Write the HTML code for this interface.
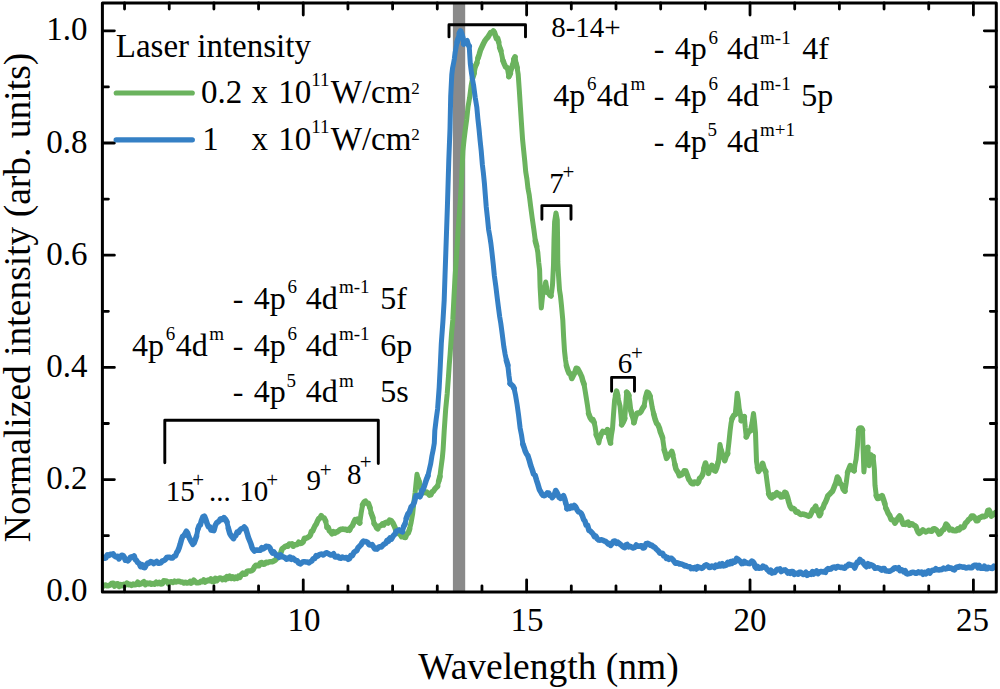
<!DOCTYPE html>
<html><head><meta charset="utf-8"><style>
html,body{margin:0;padding:0;background:#fff;}
svg{display:block;}
text{font-family:"Liberation Serif",serif;fill:#000;}
</style></head><body>
<svg width="1000" height="689" viewBox="0 0 1000 689">
<rect x="452.9" y="3.0" width="12.3" height="588.8" fill="#8a8a8a"/>
<defs><clipPath id="pc"><rect x="102.4" y="3.0" width="893.90" height="588.80"/></clipPath></defs>
<g clip-path="url(#pc)">
<polyline points="101.0,585.8 102.5,584.8 104.0,585.8 105.5,585.1 107.0,585.8 108.5,585.7 110.0,585.2 111.5,583.6 113.1,583.4 114.6,586.1 116.2,584.1 117.7,583.9 119.2,586.4 120.8,584.6 122.3,585.7 123.8,584.4 125.4,584.9 126.9,583.2 128.5,584.7 130.0,584.2 131.5,585.4 133.1,584.1 134.6,584.7 136.2,584.4 137.7,582.3 139.2,584.5 140.8,583.9 142.3,582.8 143.8,581.8 145.4,584.5 146.9,583.1 148.5,583.8 150.0,583.0 151.5,584.2 153.1,583.6 154.6,584.2 156.2,582.3 157.7,583.6 159.2,582.4 160.8,583.9 162.3,583.7 163.8,580.9 165.4,581.0 166.9,581.2 168.5,583.7 170.0,582.0 171.5,581.7 173.1,582.4 174.6,581.2 176.2,581.9 177.7,581.4 179.2,581.3 180.8,582.0 182.3,582.0 183.8,583.0 185.4,582.2 186.9,583.0 188.5,582.8 190.0,581.5 191.2,583.1 192.5,582.0 193.8,580.3 195.0,581.4 196.4,582.6 197.9,582.8 199.3,582.6 200.8,581.4 202.2,581.8 203.7,580.0 205.2,582.0 206.6,581.1 208.1,580.0 209.5,580.7 210.9,579.0 212.4,581.5 213.8,581.7 215.3,578.4 216.8,580.6 218.2,579.1 219.7,578.0 221.1,578.2 222.6,579.6 224.0,578.5 225.4,579.6 226.9,576.6 228.3,578.4 229.8,576.3 231.2,578.4 232.7,576.9 234.2,578.6 235.6,577.1 237.1,578.3 238.5,576.2 239.9,577.3 241.4,574.5 242.9,573.2 244.3,574.2 245.8,573.8 247.2,571.2 248.7,571.0 250.1,571.0 251.6,570.6 253.0,569.7 254.5,566.9 255.9,565.2 257.4,565.5 258.9,565.8 260.3,562.9 261.8,562.6 263.2,564.2 264.7,563.9 266.2,562.2 267.6,562.6 269.0,562.0 270.5,561.8 271.9,561.8 273.4,561.2 274.8,560.4 276.3,558.9 277.7,557.4 279.2,555.3 280.6,553.5 282.1,548.8 283.5,547.9 285.0,546.6 286.4,545.9 287.9,546.1 289.3,544.0 290.8,544.4 292.1,543.8 293.3,546.2 294.6,544.7 295.8,544.7 297.2,544.5 298.7,542.3 300.2,543.4 301.6,543.3 303.1,541.9 304.5,538.3 306.0,538.2 307.4,537.6 308.9,536.7 310.3,535.3 311.5,531.4 312.7,530.9 313.9,528.1 315.1,525.6 316.4,523.8 317.6,520.8 318.8,518.6 320.0,518.1 321.2,515.7 322.6,517.6 324.1,517.9 325.6,521.0" fill="none" stroke="#6bb35e" stroke-width="5.6" stroke-linejoin="round" stroke-linecap="round"/>
<polyline points="325.6,521.0 327.0,527.3" fill="none" stroke="#6bb35e" stroke-width="5.0" stroke-linejoin="round" stroke-linecap="round"/>
<polyline points="327.0,527.3 328.2,527.3 329.4,530.8 330.6,531.7 332.1,533.7 333.5,531.8 335.0,533.1 336.4,532.0 337.9,531.5 339.3,530.2 340.6,529.4 341.9,529.4 343.1,529.0 344.4,529.5 345.7,529.2 346.9,530.2 348.2,529.3 349.5,530.2 351.0,527.1 352.4,525.8 353.9,522.2 355.1,519.6 356.3,520.5 357.5,519.3 358.6,521.9 359.7,523.0" fill="none" stroke="#6bb35e" stroke-width="5.6" stroke-linejoin="round" stroke-linecap="round"/>
<polyline points="359.7,523.0 361.1,513.3 362.6,504.8" fill="none" stroke="#6bb35e" stroke-width="5.0" stroke-linejoin="round" stroke-linecap="round"/>
<polyline points="362.6,504.8 364.1,502.1 365.5,501.2 366.9,503.3 368.4,503.4 369.9,507.6" fill="none" stroke="#6bb35e" stroke-width="5.6" stroke-linejoin="round" stroke-linecap="round"/>
<polyline points="369.9,507.6 371.3,513.5" fill="none" stroke="#6bb35e" stroke-width="5.0" stroke-linejoin="round" stroke-linecap="round"/>
<polyline points="371.3,513.5 372.8,517.5" fill="none" stroke="#6bb35e" stroke-width="5.6" stroke-linejoin="round" stroke-linecap="round"/>
<polyline points="372.8,517.5 374.2,523.7" fill="none" stroke="#6bb35e" stroke-width="5.0" stroke-linejoin="round" stroke-linecap="round"/>
<polyline points="374.2,523.7 375.4,525.2 376.6,527.8 377.8,528.8 379.0,526.2 380.2,525.8 381.4,525.2 382.5,523.9 383.7,524.9 384.8,523.0 386.4,522.2 388.0,523.0 389.6,520.1 391.2,520.6 392.8,522.8 394.4,526.2 395.5,528.8 396.5,531.8 397.6,532.6 398.9,533.8 400.3,534.3 401.6,536.6 402.9,535.6 404.2,537.2 405.5,537.4 406.8,533.7 408.2,533.1 409.5,529.4" fill="none" stroke="#6bb35e" stroke-width="5.6" stroke-linejoin="round" stroke-linecap="round"/>
<polyline points="409.5,529.4 411.1,522.6 412.7,513.5 413.9,502.0 415.1,492.7 416.1,482.7 417.0,474.3 418.1,478.9" fill="none" stroke="#6bb35e" stroke-width="5.0" stroke-linejoin="round" stroke-linecap="round"/>
<polyline points="418.1,478.9 419.1,481.5" fill="none" stroke="#6bb35e" stroke-width="5.6" stroke-linejoin="round" stroke-linecap="round"/>
<polyline points="419.1,481.5 420.3,486.8" fill="none" stroke="#6bb35e" stroke-width="5.0" stroke-linejoin="round" stroke-linecap="round"/>
<polyline points="420.3,486.8 421.5,491.1 422.8,492.7 424.2,491.6 425.5,492.7 426.8,492.2 428.2,493.6 429.5,495.1 430.8,494.8 432.2,491.7 433.5,491.1 434.8,489.0 436.2,487.6 437.5,486.3" fill="none" stroke="#6bb35e" stroke-width="5.6" stroke-linejoin="round" stroke-linecap="round"/>
<polyline points="437.5,486.3 438.7,481.2" fill="none" stroke="#6bb35e" stroke-width="5.0" stroke-linejoin="round" stroke-linecap="round"/>
<polyline points="438.7,481.2 439.9,476.7" fill="none" stroke="#6bb35e" stroke-width="5.6" stroke-linejoin="round" stroke-linecap="round"/>
<polyline points="439.9,476.7 440.7,470.0 441.5,464.0 442.3,458.2 443.1,449.6 444.2,430.8 445.7,409.0 447.2,393.7 448.5,376.3 449.3,364.2 450.1,354.5 451.6,332.7 452.8,320.0 454.0,296.5 455.1,276.3 456.6,254.6 458.1,229.8 459.2,215.6 460.3,200.5 461.4,183.3 462.9,150.7 464.1,139.6 465.4,128.9 466.7,119.5 468.0,107.1 469.6,97.7 471.2,85.4 472.6,78.0" fill="none" stroke="#6bb35e" stroke-width="5.0" stroke-linejoin="round" stroke-linecap="round"/>
<polyline points="472.6,78.0 474.1,73.3" fill="none" stroke="#6bb35e" stroke-width="5.6" stroke-linejoin="round" stroke-linecap="round"/>
<polyline points="474.1,73.3 475.5,66.0" fill="none" stroke="#6bb35e" stroke-width="5.0" stroke-linejoin="round" stroke-linecap="round"/>
<polyline points="475.5,66.0 476.8,63.1" fill="none" stroke="#6bb35e" stroke-width="5.6" stroke-linejoin="round" stroke-linecap="round"/>
<polyline points="476.8,63.1 478.0,58.0" fill="none" stroke="#6bb35e" stroke-width="5.0" stroke-linejoin="round" stroke-linecap="round"/>
<polyline points="478.0,58.0 479.2,54.6 480.5,50.0 482.0,46.8 483.5,43.5 485.0,40.6 486.5,38.6 488.0,37.0 489.4,34.6 490.7,32.5 492.0,32.8 493.4,31.0 494.4,32.4 495.4,35.3 496.5,38.5 497.5,38.1 498.6,41.8" fill="none" stroke="#6bb35e" stroke-width="5.6" stroke-linejoin="round" stroke-linecap="round"/>
<polyline points="498.6,41.8 499.7,47.5" fill="none" stroke="#6bb35e" stroke-width="5.0" stroke-linejoin="round" stroke-linecap="round"/>
<polyline points="499.7,47.5 500.8,50.5" fill="none" stroke="#6bb35e" stroke-width="5.6" stroke-linejoin="round" stroke-linecap="round"/>
<polyline points="500.8,50.5 501.9,55.5 503.0,60.7" fill="none" stroke="#6bb35e" stroke-width="5.0" stroke-linejoin="round" stroke-linecap="round"/>
<polyline points="503.0,60.7 504.1,63.6 505.7,67.1 507.3,67.9" fill="none" stroke="#6bb35e" stroke-width="5.6" stroke-linejoin="round" stroke-linecap="round"/>
<polyline points="507.3,67.9 508.9,76.6" fill="none" stroke="#6bb35e" stroke-width="5.0" stroke-linejoin="round" stroke-linecap="round"/>
<polyline points="508.9,76.6 510.3,73.6" fill="none" stroke="#6bb35e" stroke-width="5.6" stroke-linejoin="round" stroke-linecap="round"/>
<polyline points="510.3,73.6 511.7,67.9" fill="none" stroke="#6bb35e" stroke-width="5.0" stroke-linejoin="round" stroke-linecap="round"/>
<polyline points="511.7,67.9 512.8,64.5" fill="none" stroke="#6bb35e" stroke-width="5.6" stroke-linejoin="round" stroke-linecap="round"/>
<polyline points="512.8,64.5 513.9,59.0" fill="none" stroke="#6bb35e" stroke-width="5.0" stroke-linejoin="round" stroke-linecap="round"/>
<polyline points="513.9,59.0 515.0,57.0" fill="none" stroke="#6bb35e" stroke-width="5.6" stroke-linejoin="round" stroke-linecap="round"/>
<polyline points="515.0,57.0 516.1,63.7" fill="none" stroke="#6bb35e" stroke-width="5.0" stroke-linejoin="round" stroke-linecap="round"/>
<polyline points="516.1,63.7 517.1,67.6" fill="none" stroke="#6bb35e" stroke-width="5.6" stroke-linejoin="round" stroke-linecap="round"/>
<polyline points="517.1,67.6 518.2,74.5 519.3,90.1 520.4,107.1 521.5,124.0 522.6,139.8 523.7,150.8 524.8,161.6 525.7,171.6 526.9,179.0 528.0,188.6 529.2,194.8 530.7,206.8 532.2,218.0 533.8,229.1 535.4,241.2" fill="none" stroke="#6bb35e" stroke-width="5.0" stroke-linejoin="round" stroke-linecap="round"/>
<polyline points="535.4,241.2 536.6,245.9" fill="none" stroke="#6bb35e" stroke-width="5.6" stroke-linejoin="round" stroke-linecap="round"/>
<polyline points="536.6,245.9 537.8,252.3 538.7,262.3 539.6,269.8 540.1,287.2 541.3,308.1 542.2,299.3 543.1,290.7" fill="none" stroke="#6bb35e" stroke-width="5.0" stroke-linejoin="round" stroke-linecap="round"/>
<polyline points="543.1,290.7 544.4,287.3" fill="none" stroke="#6bb35e" stroke-width="5.6" stroke-linejoin="round" stroke-linecap="round"/>
<polyline points="544.4,287.3 545.7,282.0 546.5,286.7 547.4,292.4" fill="none" stroke="#6bb35e" stroke-width="5.0" stroke-linejoin="round" stroke-linecap="round"/>
<polyline points="547.4,292.4 548.6,292.5 549.7,294.9 550.9,295.9" fill="none" stroke="#6bb35e" stroke-width="5.6" stroke-linejoin="round" stroke-linecap="round"/>
<polyline points="550.9,295.9 551.7,291.5 552.5,285.0 553.5,265.0 554.0,240.0 554.6,222.0 556.0,213.0 557.3,220.0 557.6,240.0 557.8,262.0 558.5,275.0 559.5,290.0 560.5,296.2 561.4,304.7 562.8,320.2 563.6,336.5 564.5,350.9 565.5,359.9 566.5,366.0" fill="none" stroke="#6bb35e" stroke-width="5.0" stroke-linejoin="round" stroke-linecap="round"/>
<polyline points="566.5,366.0 567.8,370.2 569.1,373.3 570.5,373.7 571.8,378.5 573.3,375.5 574.7,372.9 576.2,368.3 577.6,368.7 579.1,371.4 580.5,374.1 581.7,376.6 582.8,380.8 584.0,384.0" fill="none" stroke="#6bb35e" stroke-width="5.6" stroke-linejoin="round" stroke-linecap="round"/>
<polyline points="584.0,384.0 585.1,390.7 586.3,398.0 587.5,405.7 588.6,413.5" fill="none" stroke="#6bb35e" stroke-width="5.0" stroke-linejoin="round" stroke-linecap="round"/>
<polyline points="588.6,413.5 590.2,417.7 591.7,420.1 593.0,419.7 594.2,422.7" fill="none" stroke="#6bb35e" stroke-width="5.6" stroke-linejoin="round" stroke-linecap="round"/>
<polyline points="594.2,422.7 595.2,427.3 596.3,434.9" fill="none" stroke="#6bb35e" stroke-width="5.0" stroke-linejoin="round" stroke-linecap="round"/>
<polyline points="596.3,434.9 597.5,437.7" fill="none" stroke="#6bb35e" stroke-width="5.6" stroke-linejoin="round" stroke-linecap="round"/>
<polyline points="597.5,437.7 598.8,443.0 600.0,437.2" fill="none" stroke="#6bb35e" stroke-width="5.0" stroke-linejoin="round" stroke-linecap="round"/>
<polyline points="600.0,437.2 601.3,433.9 602.8,431.4 604.4,431.8 605.9,432.4 607.4,429.8" fill="none" stroke="#6bb35e" stroke-width="5.6" stroke-linejoin="round" stroke-linecap="round"/>
<polyline points="607.4,429.8 609.0,437.6" fill="none" stroke="#6bb35e" stroke-width="5.0" stroke-linejoin="round" stroke-linecap="round"/>
<polyline points="609.0,437.6 610.5,443.0" fill="none" stroke="#6bb35e" stroke-width="5.6" stroke-linejoin="round" stroke-linecap="round"/>
<polyline points="610.5,443.0 611.5,434.5 612.5,428.8 613.5,414.6 614.6,400.3 615.6,395.1" fill="none" stroke="#6bb35e" stroke-width="5.0" stroke-linejoin="round" stroke-linecap="round"/>
<polyline points="615.6,395.1 616.6,391.2 617.6,395.1" fill="none" stroke="#6bb35e" stroke-width="5.6" stroke-linejoin="round" stroke-linecap="round"/>
<polyline points="617.6,395.1 618.6,400.3 620.1,406.4 620.9,415.0 621.7,424.7" fill="none" stroke="#6bb35e" stroke-width="5.0" stroke-linejoin="round" stroke-linecap="round"/>
<polyline points="621.7,424.7 623.2,422.1 624.7,418.6" fill="none" stroke="#6bb35e" stroke-width="5.6" stroke-linejoin="round" stroke-linecap="round"/>
<polyline points="624.7,418.6 625.7,405.7 626.7,392.2" fill="none" stroke="#6bb35e" stroke-width="5.0" stroke-linejoin="round" stroke-linecap="round"/>
<polyline points="626.7,392.2 627.8,393.2 628.8,395.2" fill="none" stroke="#6bb35e" stroke-width="5.6" stroke-linejoin="round" stroke-linecap="round"/>
<polyline points="628.8,395.2 629.8,401.8 630.8,410.5" fill="none" stroke="#6bb35e" stroke-width="5.0" stroke-linejoin="round" stroke-linecap="round"/>
<polyline points="630.8,410.5 632.3,416.0" fill="none" stroke="#6bb35e" stroke-width="5.6" stroke-linejoin="round" stroke-linecap="round"/>
<polyline points="632.3,416.0 633.9,422.7" fill="none" stroke="#6bb35e" stroke-width="5.0" stroke-linejoin="round" stroke-linecap="round"/>
<polyline points="633.9,422.7 635.4,416.8 636.9,413.5 638.3,413.0 639.6,412.9 641.0,411.5 642.5,408.5 644.0,406.4" fill="none" stroke="#6bb35e" stroke-width="5.6" stroke-linejoin="round" stroke-linecap="round"/>
<polyline points="644.0,406.4 645.5,397.9" fill="none" stroke="#6bb35e" stroke-width="5.0" stroke-linejoin="round" stroke-linecap="round"/>
<polyline points="645.5,397.9 647.1,392.2 648.6,393.2 650.1,396.3" fill="none" stroke="#6bb35e" stroke-width="5.6" stroke-linejoin="round" stroke-linecap="round"/>
<polyline points="650.1,396.3 651.2,401.4 652.2,407.4 653.7,413.9" fill="none" stroke="#6bb35e" stroke-width="5.0" stroke-linejoin="round" stroke-linecap="round"/>
<polyline points="653.7,413.9 655.2,419.6 656.6,423.3 657.9,424.7 659.3,427.8 660.4,432.0 661.4,434.6 662.5,437.4" fill="none" stroke="#6bb35e" stroke-width="5.6" stroke-linejoin="round" stroke-linecap="round"/>
<polyline points="662.5,437.4 663.4,443.6 664.3,450.2" fill="none" stroke="#6bb35e" stroke-width="5.0" stroke-linejoin="round" stroke-linecap="round"/>
<polyline points="664.3,450.2 665.5,453.8 666.6,458.3 667.8,456.5 668.9,454.8 670.3,453.8 671.8,451.4 672.7,454.6" fill="none" stroke="#6bb35e" stroke-width="5.6" stroke-linejoin="round" stroke-linecap="round"/>
<polyline points="672.7,454.6 673.6,458.3 674.8,464.2" fill="none" stroke="#6bb35e" stroke-width="5.0" stroke-linejoin="round" stroke-linecap="round"/>
<polyline points="674.8,464.2 675.9,468.8 677.1,471.0 678.2,472.5 679.4,475.7 680.6,475.1 681.7,474.8 682.9,473.4 684.3,470.8 685.8,471.1 687.2,474.9 688.7,479.2 689.9,480.7 691.0,482.7 692.2,483.8 693.3,483.8 694.5,482.1 696.0,482.3 697.4,483.3 698.5,482.1 699.7,478.1 701.2,477.3 702.6,474.6" fill="none" stroke="#6bb35e" stroke-width="5.6" stroke-linejoin="round" stroke-linecap="round"/>
<polyline points="702.6,474.6 704.0,468.0" fill="none" stroke="#6bb35e" stroke-width="5.0" stroke-linejoin="round" stroke-linecap="round"/>
<polyline points="704.0,468.0 705.5,463.0 707.0,468.1 708.4,473.4 709.6,469.4 710.7,469.1 711.9,465.3 713.1,467.8 714.2,470.5 715.4,471.1 716.8,467.4 718.3,461.8" fill="none" stroke="#6bb35e" stroke-width="5.6" stroke-linejoin="round" stroke-linecap="round"/>
<polyline points="718.3,461.8 719.1,453.7 720.0,444.4 721.2,450.4" fill="none" stroke="#6bb35e" stroke-width="5.0" stroke-linejoin="round" stroke-linecap="round"/>
<polyline points="721.2,450.4 722.4,454.8 723.5,458.0 724.7,460.7 726.2,455.9 727.6,453.7" fill="none" stroke="#6bb35e" stroke-width="5.6" stroke-linejoin="round" stroke-linecap="round"/>
<polyline points="727.6,453.7 728.9,442.5 730.1,430.8 731.1,423.0 732.1,418.6" fill="none" stroke="#6bb35e" stroke-width="5.0" stroke-linejoin="round" stroke-linecap="round"/>
<polyline points="732.1,418.6 733.7,415.4 735.2,414.6" fill="none" stroke="#6bb35e" stroke-width="5.6" stroke-linejoin="round" stroke-linecap="round"/>
<polyline points="735.2,414.6 736.2,404.8 737.2,393.2 738.2,399.3 739.2,408.5 740.2,413.2 741.3,420.7" fill="none" stroke="#6bb35e" stroke-width="5.0" stroke-linejoin="round" stroke-linecap="round"/>
<polyline points="741.3,420.7 742.8,417.3 744.3,416.6" fill="none" stroke="#6bb35e" stroke-width="5.6" stroke-linejoin="round" stroke-linecap="round"/>
<polyline points="744.3,416.6 745.3,428.0 746.3,436.9" fill="none" stroke="#6bb35e" stroke-width="5.0" stroke-linejoin="round" stroke-linecap="round"/>
<polyline points="746.3,436.9 747.7,433.8 749.0,431.2 750.4,430.8" fill="none" stroke="#6bb35e" stroke-width="5.6" stroke-linejoin="round" stroke-linecap="round"/>
<polyline points="750.4,430.8 752.0,423.3 753.5,413.5 754.5,421.9 755.5,432.8 756.5,461.3 757.5,467.6" fill="none" stroke="#6bb35e" stroke-width="5.0" stroke-linejoin="round" stroke-linecap="round"/>
<polyline points="757.5,467.6 758.5,471.5 759.9,469.4 761.2,467.2 762.6,463.3 764.2,468.9 765.7,471.5" fill="none" stroke="#6bb35e" stroke-width="5.6" stroke-linejoin="round" stroke-linecap="round"/>
<polyline points="765.7,471.5 767.2,482.9 768.7,493.8" fill="none" stroke="#6bb35e" stroke-width="5.0" stroke-linejoin="round" stroke-linecap="round"/>
<polyline points="768.7,493.8 770.2,496.9 771.7,497.9 773.0,495.0 774.2,496.3 775.5,494.1 776.8,492.8 778.2,494.9 779.5,494.2 780.9,496.9 782.2,496.7 783.5,496.3 784.7,492.3 786.0,492.8 787.3,496.6 788.7,501.8 790.0,506.0 791.5,508.6 793.0,508.2 794.6,509.5 796.1,512.1 797.6,511.7 799.2,513.5 800.7,514.5 802.2,514.1 803.7,514.3 805.2,514.7 806.8,515.3 808.3,516.2 809.1,515.4 810.0,515.7 811.4,513.0 812.9,509.5 814.3,508.6 815.7,506.2 816.9,511.0 818.2,512.2 819.4,515.7 820.6,513.7" fill="none" stroke="#6bb35e" stroke-width="5.6" stroke-linejoin="round" stroke-linecap="round"/>
<polyline points="820.6,513.7 821.8,508.8" fill="none" stroke="#6bb35e" stroke-width="5.0" stroke-linejoin="round" stroke-linecap="round"/>
<polyline points="821.8,508.8 823.0,507.8 824.2,504.3 825.4,502.3 826.7,499.2 827.9,495.8 829.5,494.3 831.0,492.6 832.6,491.1 834.2,486.9 835.8,483.1 837.4,477.0 838.8,479.1 840.2,483.6 841.8,484.7 843.3,489.4 844.9,491.1" fill="none" stroke="#6bb35e" stroke-width="5.6" stroke-linejoin="round" stroke-linecap="round"/>
<polyline points="844.9,491.1 846.2,483.1 847.6,472.2" fill="none" stroke="#6bb35e" stroke-width="5.0" stroke-linejoin="round" stroke-linecap="round"/>
<polyline points="847.6,472.2 848.9,469.0 850.2,465.7 851.5,467.2 852.8,469.9 854.1,470.9" fill="none" stroke="#6bb35e" stroke-width="5.6" stroke-linejoin="round" stroke-linecap="round"/>
<polyline points="854.1,470.9 855.1,464.0 856.1,459.2 857.4,446.1 858.6,430.0" fill="none" stroke="#6bb35e" stroke-width="5.0" stroke-linejoin="round" stroke-linecap="round"/>
<polyline points="858.6,430.0 859.5,428.2 860.5,428.0 861.5,428.0 862.5,430.0" fill="none" stroke="#6bb35e" stroke-width="5.6" stroke-linejoin="round" stroke-linecap="round"/>
<polyline points="862.5,430.0 863.0,446.0 863.9,472.0 864.9,461.3 865.9,450.0" fill="none" stroke="#6bb35e" stroke-width="5.0" stroke-linejoin="round" stroke-linecap="round"/>
<polyline points="865.9,450.0 866.8,448.1 867.8,447.4" fill="none" stroke="#6bb35e" stroke-width="5.6" stroke-linejoin="round" stroke-linecap="round"/>
<polyline points="867.8,447.4 869.2,465.7 870.2,459.5 871.1,455.2" fill="none" stroke="#6bb35e" stroke-width="5.0" stroke-linejoin="round" stroke-linecap="round"/>
<polyline points="871.1,455.2 872.1,456.5 873.1,456.6" fill="none" stroke="#6bb35e" stroke-width="5.6" stroke-linejoin="round" stroke-linecap="round"/>
<polyline points="873.1,456.6 874.4,469.6 875.0,485.3 876.3,495.7" fill="none" stroke="#6bb35e" stroke-width="5.0" stroke-linejoin="round" stroke-linecap="round"/>
<polyline points="876.3,495.7 877.6,498.5 878.9,498.3 880.0,496.7 881.1,497.3 882.2,495.7 883.5,499.4 884.8,503.6" fill="none" stroke="#6bb35e" stroke-width="5.6" stroke-linejoin="round" stroke-linecap="round"/>
<polyline points="884.8,503.6 885.8,508.0" fill="none" stroke="#6bb35e" stroke-width="5.0" stroke-linejoin="round" stroke-linecap="round"/>
<polyline points="885.8,508.0 886.8,510.0 888.2,513.4 889.7,515.5 891.1,519.4 892.4,519.7 893.6,520.3 894.9,523.2 896.5,520.7 898.0,518.0 899.6,516.0 900.8,517.6 901.9,520.9 903.1,524.1 904.3,523.1 905.4,524.3 906.6,523.0 908.0,522.1 909.5,525.2 911.0,523.8 912.4,524.1 913.6,525.2 914.7,525.6 915.9,526.5 917.1,529.9 918.2,532.2 919.4,533.4 920.6,532.4 921.7,531.0 922.9,529.9 924.4,531.1 926.0,531.9 927.5,531.1 928.9,530.3 930.3,531.0 931.7,531.3 933.1,529.1 934.5,528.8 936.0,529.6 937.6,531.4 939.1,534.0 940.3,533.4 941.4,531.9 942.6,529.9 943.8,529.5 944.9,527.2 946.1,524.1 947.3,525.2 948.4,526.9 949.6,529.9 950.8,529.3 951.9,529.2 953.1,530.5 954.6,530.6 956.2,530.6 957.7,528.8 959.3,529.8 960.8,527.2 962.4,527.6 963.9,526.9 965.5,523.1 967.0,521.8 968.6,519.6 970.1,518.7 971.7,516.0 973.2,516.1 974.8,517.7 976.3,520.6 977.8,520.6 979.4,517.6 980.9,517.2 982.5,516.3 984.0,516.7 985.6,516.0 986.8,514.7 987.9,510.5 989.1,510.2 990.2,512.5 991.4,516.0 992.7,515.0 994.0,514.4 995.4,512.6 996.7,513.1 998.0,512.0" fill="none" stroke="#6bb35e" stroke-width="5.6" stroke-linejoin="round" stroke-linecap="round"/>
<polyline points="101.0,559.0 102.1,558.2 103.3,557.3 104.4,558.3 105.9,557.8 107.3,554.9 108.8,555.5 110.2,554.4 111.6,554.4 113.1,553.9 114.5,555.9 116.0,556.9 117.4,556.3 118.9,558.8 120.3,556.8 121.8,555.2 123.0,555.4 124.2,557.1 125.4,560.2 126.6,559.7 127.8,560.8 129.0,559.5 130.3,557.3 131.6,556.8 132.8,557.2 134.1,555.9 135.3,559.6 136.5,560.5 137.7,562.4 139.1,563.3 140.6,566.6 142.1,564.7 143.5,567.5 144.9,567.6 146.4,564.6 147.9,563.0 149.3,563.1 150.8,561.6 152.2,562.1 153.7,563.6 155.2,562.4 156.6,561.5 158.1,563.1 159.5,563.1 160.9,562.7 162.4,560.9 163.9,560.6 165.3,559.5 166.8,557.6 168.2,557.3 169.7,557.4 171.1,558.0 172.6,557.9 174.0,556.4 175.5,555.9 176.7,552.6 177.9,550.9 179.1,547.9 180.3,543.9 181.5,539.5 182.7,536.3 183.9,535.6 185.2,533.6 186.4,531.2 187.6,533.0 188.8,536.8 190.0,539.2 191.4,541.8 192.9,544.3 194.1,542.9 195.3,539.7 196.5,536.3" fill="none" stroke="#3580c5" stroke-width="5.6" stroke-linejoin="round" stroke-linecap="round"/>
<polyline points="196.5,536.3 197.9,529.2" fill="none" stroke="#3580c5" stroke-width="5.0" stroke-linejoin="round" stroke-linecap="round"/>
<polyline points="197.9,529.2 199.1,525.6 200.3,525.0 201.5,520.5 202.9,517.0 204.4,516.1 205.9,519.8 207.3,524.1 208.5,526.9 209.8,526.8 211.0,529.9 212.4,530.2 213.9,530.6 215.4,525.1 216.8,522.7 218.0,522.0 219.2,521.1 220.4,519.0 221.6,518.8 222.8,519.3 224.0,517.6 225.4,519.1 226.9,521.9" fill="none" stroke="#3580c5" stroke-width="5.6" stroke-linejoin="round" stroke-linecap="round"/>
<polyline points="226.9,521.9 228.4,528.4" fill="none" stroke="#3580c5" stroke-width="5.0" stroke-linejoin="round" stroke-linecap="round"/>
<polyline points="228.4,528.4 229.8,533.5 231.0,535.5 232.3,537.2 233.5,538.6 234.7,536.3 235.9,535.4 237.1,532.1 238.6,532.5 240.0,529.9 241.4,528.8 242.9,528.5 244.3,527.0 245.8,528.8 247.2,533.5 248.4,537.6 249.7,540.8 250.9,543.7 252.1,547.8 253.3,549.7 254.5,551.0 256.0,550.0 257.4,550.1 258.9,550.2 260.3,550.3 261.8,547.6 263.2,548.8 264.7,547.9 266.1,546.2 267.6,546.6 268.8,546.8 270.0,548.0 271.2,551.0 272.5,553.0 273.8,551.9 275.0,553.4 276.3,555.3 277.8,555.3 279.2,557.3 280.7,555.0 282.1,556.8 283.6,557.0 285.0,557.7 286.4,559.2 287.9,558.2 288.9,558.7 290.0,557.1 291.4,559.2 292.9,558.1 294.4,559.5 295.8,560.7 297.2,560.8 298.7,563.1 300.2,563.9 301.6,562.9 303.1,561.7 304.5,561.8 306.0,562.0 307.4,562.0 308.9,562.9 310.3,561.7 311.8,561.0 313.2,558.8 314.7,558.5 316.1,555.7 317.6,556.1 319.1,554.8 320.5,554.2 321.9,554.1 323.4,555.0 324.9,553.7 326.3,552.7 327.8,553.3 329.2,554.2 330.7,554.9 332.1,554.9 333.6,553.8 335.0,557.0 336.4,557.0 337.9,556.4 339.3,558.0 340.8,558.1 342.2,557.1 343.7,557.8 345.2,558.0 346.6,557.5 348.1,559.3 349.5,558.5 351.0,555.3 352.4,555.6 353.9,552.5 355.3,551.3 356.8,550.6 358.2,547.5 359.7,546.1 361.1,544.7 362.3,542.2 363.5,541.1 364.7,541.8 366.2,541.6 367.6,542.4 369.1,544.7 370.6,545.0 372.0,544.6 373.5,546.9 374.7,548.9 375.9,548.8 377.1,549.1 378.5,547.2 380.0,546.8 381.4,546.9 382.9,545.2 384.3,544.0 385.8,543.3 387.2,540.3 388.6,541.0 390.0,538.0 391.4,539.0 392.8,536.6 394.0,535.1 395.2,533.7 396.4,531.0 397.6,531.0 399.2,529.9 400.8,531.0 402.4,531.8" fill="none" stroke="#3580c5" stroke-width="5.6" stroke-linejoin="round" stroke-linecap="round"/>
<polyline points="402.4,531.8 403.7,526.5" fill="none" stroke="#3580c5" stroke-width="5.0" stroke-linejoin="round" stroke-linecap="round"/>
<polyline points="403.7,526.5 405.0,523.9" fill="none" stroke="#3580c5" stroke-width="5.6" stroke-linejoin="round" stroke-linecap="round"/>
<polyline points="405.0,523.9 406.3,518.2" fill="none" stroke="#3580c5" stroke-width="5.0" stroke-linejoin="round" stroke-linecap="round"/>
<polyline points="406.3,518.2 407.9,513.9 409.5,511.9 411.1,507.1 412.7,505.5 414.3,502.2 415.9,495.9 417.2,496.3 418.6,495.2 419.9,496.7 421.0,494.4 422.0,490.3 423.1,489.5 424.7,484.8 426.3,479.9 427.9,475.9" fill="none" stroke="#3580c5" stroke-width="5.6" stroke-linejoin="round" stroke-linecap="round"/>
<polyline points="427.9,475.9 429.5,468.7 430.7,463.6 431.9,456.0 433.1,450.3 434.3,443.2 434.8,430.8 436.2,419.1 437.6,409.0 439.2,387.2 440.3,365.4 441.3,343.6 442.9,321.8 444.2,300.0 445.0,276.0 445.8,253.0 447.4,206.5 448.8,160.0 450.0,128.9 450.7,96.3 451.8,74.5 452.6,67.9 453.5,63.6 454.3,59.1 455.1,52.7 456.1,47.4 457.2,41.8" fill="none" stroke="#3580c5" stroke-width="5.0" stroke-linejoin="round" stroke-linecap="round"/>
<polyline points="457.2,41.8 458.3,38.4" fill="none" stroke="#3580c5" stroke-width="5.6" stroke-linejoin="round" stroke-linecap="round"/>
<polyline points="458.3,38.4 459.4,33.1" fill="none" stroke="#3580c5" stroke-width="5.0" stroke-linejoin="round" stroke-linecap="round"/>
<polyline points="459.4,33.1 460.5,30.9 461.6,33.6 462.7,37.4" fill="none" stroke="#3580c5" stroke-width="5.6" stroke-linejoin="round" stroke-linecap="round"/>
<polyline points="462.7,37.4 463.8,44.0" fill="none" stroke="#3580c5" stroke-width="5.0" stroke-linejoin="round" stroke-linecap="round"/>
<polyline points="463.8,44.0 465.4,41.4 467.0,40.7 468.1,44.5 469.2,46.1" fill="none" stroke="#3580c5" stroke-width="5.6" stroke-linejoin="round" stroke-linecap="round"/>
<polyline points="469.2,46.1 470.3,63.6 471.4,72.5 472.5,79.3 473.6,85.4 475.2,97.3 476.8,107.1 477.9,119.1 479.0,128.9 480.1,140.6 481.2,150.7 482.4,165.0 483.4,173.2 484.4,183.2 485.3,194.9 486.2,206.4 487.4,217.5 488.6,229.6 489.7,235.7 490.9,243.5 492.0,252.8 493.2,263.7 494.4,276.0 495.9,286.8 497.4,299.2 498.5,307.9 499.7,316.8 500.8,323.3 502.3,334.7 503.8,346.5 505.1,354.2 506.5,360.6" fill="none" stroke="#3580c5" stroke-width="5.0" stroke-linejoin="round" stroke-linecap="round"/>
<polyline points="506.5,360.6 507.8,365.1" fill="none" stroke="#3580c5" stroke-width="5.6" stroke-linejoin="round" stroke-linecap="round"/>
<polyline points="507.8,365.1 509.0,375.9 510.1,383.7" fill="none" stroke="#3580c5" stroke-width="5.0" stroke-linejoin="round" stroke-linecap="round"/>
<polyline points="510.1,383.7 511.4,384.8 512.8,385.9 514.1,388.4" fill="none" stroke="#3580c5" stroke-width="5.6" stroke-linejoin="round" stroke-linecap="round"/>
<polyline points="514.1,388.4 515.6,395.6 517.1,404.7 518.6,415.3 520.1,427.9 521.5,435.0 522.9,444.2" fill="none" stroke="#3580c5" stroke-width="5.0" stroke-linejoin="round" stroke-linecap="round"/>
<polyline points="522.9,444.2 524.1,447.5 525.3,451.3 526.6,454.0 527.8,455.7 529.3,460.3 530.7,465.5 532.2,469.6 533.6,474.1 535.1,475.2 536.5,480.1 538.0,484.7 539.4,489.6 540.9,492.2 542.1,494.3 543.2,495.4 544.4,495.7 545.8,494.8 547.3,492.9 548.7,493.1 549.9,495.5 551.0,495.5 552.2,497.5 553.4,496.2 554.5,494.4 555.7,490.5 556.9,492.5 558.0,494.8 559.2,497.5 560.6,498.4 562.1,497.1 563.5,495.7 564.7,498.9 565.8,503.2" fill="none" stroke="#3580c5" stroke-width="5.6" stroke-linejoin="round" stroke-linecap="round"/>
<polyline points="565.8,503.2 567.0,508.8" fill="none" stroke="#3580c5" stroke-width="5.0" stroke-linejoin="round" stroke-linecap="round"/>
<polyline points="567.0,508.8 568.5,506.7 569.9,508.4 571.4,506.2 572.8,507.5 574.3,505.5 575.7,507.0 577.0,509.6 578.4,511.7 579.7,512.1 581.0,513.1 582.3,515.6 583.6,519.4 584.9,521.0 586.2,525.3 587.6,525.4 589.0,530.4 590.3,531.0 591.7,532.4 593.1,534.0 594.5,536.7 595.9,536.2 597.3,538.9 598.7,540.0 600.1,540.1 601.5,539.7 602.9,540.3 604.3,541.0 605.7,541.4 607.1,542.8 608.3,544.0 609.4,543.7 610.6,545.4 612.0,543.7 613.5,541.2 614.9,541.0 616.4,543.3 617.8,542.2 619.3,543.6 620.7,544.6 622.2,546.2 623.6,547.1 624.8,547.6 625.9,545.1 627.1,544.5 628.6,546.8 630.2,546.3 631.7,547.2 633.2,548.0 634.7,547.4 636.3,545.0 637.8,546.0 639.1,546.3 640.4,545.9 641.7,545.8 643.0,548.0 644.5,547.5 646.1,543.8 647.6,543.4 649.1,544.0 650.6,545.5 652.1,545.4 653.4,546.7 654.7,547.1 656.0,548.8 657.3,549.9 658.6,551.2 659.9,553.1 661.2,553.2 662.5,553.2 663.8,556.0 665.1,556.2 666.4,558.4 667.7,557.6 669.0,559.3 670.3,558.4 671.6,558.4 672.9,559.7 674.2,561.5 675.5,563.2 676.8,562.9 678.1,563.0 679.4,563.9 680.7,563.9 682.0,564.2 683.3,564.8 684.6,565.9 685.9,565.6 687.2,566.4 688.5,566.8 689.8,566.9 691.1,568.6 692.4,567.9 693.7,568.6 695.0,567.5 696.3,569.0 697.6,566.7 698.9,567.7 700.2,567.5 701.7,568.3 703.3,567.3 704.8,565.5 706.3,564.9 707.8,565.5 709.3,567.5 710.6,567.3 711.9,566.0 713.2,566.6 714.5,567.5 715.8,565.2 717.1,566.4 718.4,566.0 719.7,564.2 721.0,565.9 722.3,563.7 723.6,565.9 724.9,565.5 726.4,565.1 727.8,562.3 729.3,563.9 730.8,561.6 731.9,563.4 732.9,561.1 734.0,562.3 735.3,561.9 736.6,558.4 737.9,559.1 739.2,560.5 740.5,561.6 741.8,563.6 743.1,563.4 744.4,561.4 745.7,562.9 747.0,562.9 748.3,563.4 749.6,563.6 750.7,562.4 751.8,561.2 752.9,561.6 754.0,563.1 755.0,566.7 756.1,568.1 757.5,566.4 758.9,568.2 760.3,567.8 761.7,568.0 763.0,566.1 764.3,567.0 765.6,567.3 766.9,569.3 768.2,570.4 769.5,571.9 770.8,570.2 772.1,573.0 773.4,572.1 774.7,572.5 776.0,570.6 777.3,569.3 778.6,569.8 779.9,569.0 781.2,571.5 782.5,570.6 783.8,570.1 785.1,569.9 786.4,571.1 787.7,573.0 789.0,571.9 790.3,573.2 791.6,571.6 792.9,571.5 794.2,574.4 795.5,573.2 796.8,573.6 798.1,574.1 799.4,572.2 800.7,572.2 802.0,573.8 803.3,574.4 804.6,573.5 805.9,572.3 807.2,575.3 808.5,573.8 809.8,574.0 811.1,574.3 812.4,571.6 813.7,574.0 815.0,572.5 816.6,570.9 818.1,573.5 819.7,572.0 821.2,571.5 822.8,571.9 824.1,571.6 825.4,572.3 826.7,569.6 828.0,568.6 829.3,569.3 830.6,569.1 831.9,567.9 833.2,567.2 834.5,567.1 835.8,568.0 837.4,566.5 838.9,567.0 840.5,567.4 842.0,567.3 843.6,568.0 844.9,568.2 846.2,566.0 847.5,566.0 848.8,564.3 850.1,564.7 851.6,565.3 853.2,565.3 854.7,568.0 856.0,565.0 857.3,562.1 858.6,562.4 859.9,559.5 861.2,561.1 862.5,561.4 863.8,563.8 865.1,565.4 866.5,566.7 868.0,563.7 869.5,566.0 870.9,564.7 872.3,565.3 873.7,566.3 875.1,568.3 876.5,568.0 877.8,567.8 879.1,568.3 880.4,569.0 881.7,570.1 883.0,568.6 884.3,568.6 885.6,570.8 886.9,570.9 888.2,571.1 889.5,571.2 891.1,570.4 892.6,569.6 894.2,568.1 895.7,567.9 897.3,568.6 898.6,567.8 899.9,570.7 901.2,569.7 902.5,570.1 903.8,571.9 905.1,570.7 906.4,573.6 907.7,573.9 909.0,573.5 910.3,573.2 911.6,572.5 912.9,572.3 914.2,572.5 915.5,573.1 916.8,573.2 918.4,571.9 919.9,572.7 921.5,572.0 923.0,574.2 924.6,572.5 925.9,573.8 927.2,572.1 928.5,570.9 929.8,573.0 931.1,571.2 932.7,570.3 934.2,570.2 935.8,568.7 937.3,569.8 938.9,569.9 940.5,569.6 942.0,569.4 943.6,568.1 945.1,568.9 946.7,568.6 948.3,567.2 949.8,568.3 951.4,568.0 952.9,569.3 954.5,569.9 955.8,567.7 957.1,567.0 958.4,567.3 959.7,566.4 961.0,566.7 962.6,567.1 964.1,567.0 965.7,567.9 967.2,567.7 968.8,567.3 970.4,567.7 971.9,567.8 973.5,565.8 975.0,565.2 976.6,565.4 977.9,567.7 979.2,565.5 980.5,568.1 981.8,568.0 983.1,568.3 984.4,566.2 985.7,568.7 987.0,568.8 988.3,567.3 989.7,567.8 991.1,568.2 992.5,568.4 993.8,566.2 995.2,567.5 996.6,567.5 998.0,567.5" fill="none" stroke="#3580c5" stroke-width="5.6" stroke-linejoin="round" stroke-linecap="round"/>
</g>
<path d="M124.54 591.80V585.80M124.54 3.00V9.00M169.22 591.80V585.80M169.22 3.00V9.00M213.90 591.80V585.80M213.90 3.00V9.00M258.57 591.80V585.80M258.57 3.00V9.00M303.25 591.80V579.80M303.25 3.00V15.00M347.93 591.80V585.80M347.93 3.00V9.00M392.60 591.80V585.80M392.60 3.00V9.00M437.28 591.80V585.80M437.28 3.00V9.00M481.96 591.80V585.80M481.96 3.00V9.00M526.63 591.80V579.80M526.63 3.00V15.00M571.31 591.80V585.80M571.31 3.00V9.00M615.99 591.80V585.80M615.99 3.00V9.00M660.67 591.80V585.80M660.67 3.00V9.00M705.34 591.80V585.80M705.34 3.00V9.00M750.02 591.80V579.80M750.02 3.00V15.00M794.70 591.80V585.80M794.70 3.00V9.00M839.37 591.80V585.80M839.37 3.00V9.00M884.05 591.80V585.80M884.05 3.00V9.00M928.73 591.80V585.80M928.73 3.00V9.00M973.40 591.80V579.80M973.40 3.00V15.00M102.40 535.70H108.40M996.30 535.70H990.30M102.40 479.60H114.40M996.30 479.60H984.30M102.40 423.50H108.40M996.30 423.50H990.30M102.40 367.40H114.40M996.30 367.40H984.30M102.40 311.30H108.40M996.30 311.30H990.30M102.40 255.20H114.40M996.30 255.20H984.30M102.40 199.10H108.40M996.30 199.10H990.30M102.40 143.00H114.40M996.30 143.00H984.30M102.40 86.90H108.40M996.30 86.90H990.30M102.40 30.80H114.40M996.30 30.80H984.30" stroke="#000" stroke-width="2.8" stroke-linecap="round" fill="none"/>
<rect x="102.4" y="3.0" width="893.90" height="589.10" fill="none" stroke="#000" stroke-width="3" stroke-linejoin="round"/>
<line x1="116.2" y1="93" x2="192.3" y2="93" stroke="#6bb35e" stroke-width="5.1" stroke-linecap="round"/>
<line x1="116.2" y1="139.8" x2="192.3" y2="139.8" stroke="#3580c5" stroke-width="5.3" stroke-linecap="round"/>
<path d="M449 36.9V24.8H525.5V36.9M541.9 219.2V205.6H571V219.2M611.6 391.2V377.35H634.5V391.2M164.8 462.7V420.2H378.3V463.5" stroke="#000" stroke-width="2.9" stroke-linecap="round" stroke-linejoin="round" fill="none"/>
<text x="87.6" y="601.40" text-anchor="end" font-size="33">0.0</text><text x="87.6" y="489.20" text-anchor="end" font-size="33">0.2</text><text x="87.6" y="377.00" text-anchor="end" font-size="33">0.4</text><text x="87.6" y="264.80" text-anchor="end" font-size="33">0.6</text><text x="87.6" y="152.60" text-anchor="end" font-size="33">0.8</text><text x="87.6" y="40.40" text-anchor="end" font-size="33">1.0</text>
<text x="287.60" y="631.20" font-size="33">10</text>
<text x="510.50" y="631.20" font-size="33">15</text>
<text x="733.40" y="631.20" font-size="33">20</text>
<text x="956.00" y="631.20" font-size="33">25</text>
<text x="115.75" y="56.50" font-size="33">Laser intensity</text>
<text x="201.00" y="103.10" font-size="33">0.2</text>
<text x="251.40" y="103.10" font-size="33">x</text>
<text x="278.30" y="103.10" font-size="33">10</text>
<text x="311.20" y="86.10" font-size="19">11</text>
<text x="330.80" y="103.10" font-size="33">W/cm</text>
<text x="411.20" y="93.50" font-size="17">2</text>
<text x="202.20" y="149.80" font-size="33">1</text>
<text x="251.40" y="149.80" font-size="33">x</text>
<text x="278.30" y="149.80" font-size="33">10</text>
<text x="311.20" y="132.80" font-size="19">11</text>
<text x="330.80" y="149.80" font-size="33">W/cm</text>
<text x="411.20" y="140.20" font-size="17">2</text>
<text x="653.75" y="59.20" font-size="32">-</text>
<text x="674.75" y="59.20" font-size="32">4p</text>
<text x="708.55" y="43.70" font-size="19">6</text>
<text x="726.95" y="59.20" font-size="32">4d</text>
<text x="760.05" y="43.70" font-size="19">m-1</text>
<text x="802.25" y="59.20" font-size="32">4f</text>
<text x="653.75" y="105.70" font-size="32">-</text>
<text x="674.75" y="105.70" font-size="32">4p</text>
<text x="708.55" y="90.20" font-size="19">6</text>
<text x="726.95" y="105.70" font-size="32">4d</text>
<text x="760.05" y="90.20" font-size="19">m-1</text>
<text x="801.25" y="105.70" font-size="32">5p</text>
<text x="653.75" y="151.50" font-size="32">-</text>
<text x="674.75" y="151.50" font-size="32">4p</text>
<text x="707.55" y="136.00" font-size="19">5</text>
<text x="726.95" y="151.50" font-size="32">4d</text>
<text x="760.05" y="136.00" font-size="19">m+1</text>
<text x="553.15" y="105.70" font-size="32">4p</text>
<text x="586.95" y="90.20" font-size="19">6</text>
<text x="596.85" y="105.70" font-size="32">4d</text>
<text x="630.45" y="90.20" font-size="19">m</text>
<text x="232.65" y="308.80" font-size="32">-</text>
<text x="253.65" y="308.80" font-size="32">4p</text>
<text x="287.45" y="293.30" font-size="19">6</text>
<text x="305.85" y="308.80" font-size="32">4d</text>
<text x="338.95" y="293.30" font-size="19">m-1</text>
<text x="380.15" y="308.80" font-size="32">5f</text>
<text x="232.65" y="355.50" font-size="32">-</text>
<text x="253.65" y="355.50" font-size="32">4p</text>
<text x="287.45" y="340.00" font-size="19">6</text>
<text x="305.85" y="355.50" font-size="32">4d</text>
<text x="338.95" y="340.00" font-size="19">m-1</text>
<text x="380.15" y="355.50" font-size="32">6p</text>
<text x="232.65" y="402.00" font-size="32">-</text>
<text x="253.65" y="402.00" font-size="32">4p</text>
<text x="286.45" y="386.50" font-size="19">5</text>
<text x="305.85" y="402.00" font-size="32">4d</text>
<text x="338.95" y="386.50" font-size="19">m</text>
<text x="380.15" y="402.00" font-size="32">5s</text>
<text x="132.05" y="355.50" font-size="32">4p</text>
<text x="165.85" y="340.00" font-size="19">6</text>
<text x="175.75" y="355.50" font-size="32">4d</text>
<text x="209.35" y="340.00" font-size="19">m</text>
<text x="551.20" y="37.30" font-size="29">8-14+</text>
<text x="549.20" y="192.50" font-size="29">7</text>
<text x="562.50" y="178.80" font-size="21">+</text>
<text x="617.70" y="372.80" font-size="29">6</text>
<text x="631.00" y="359.50" font-size="21">+</text>
<text x="165.80" y="500.50" font-size="29">15</text>
<text x="192.20" y="486.50" font-size="21">+</text>
<text x="209.00" y="500.50" font-size="29">...</text>
<text x="239.30" y="500.50" font-size="29">10</text>
<text x="266.30" y="486.50" font-size="21">+</text>
<text x="306.40" y="490.30" font-size="29">9</text>
<text x="319.80" y="476.60" font-size="21">+</text>
<text x="347.00" y="483.80" font-size="29">8</text>
<text x="359.80" y="469.40" font-size="21">+</text>
<text x="418.25" y="679.30" font-size="37.5">Wavelength (nm)</text>
<text transform="translate(29.8,542.20) rotate(-90)" font-size="37.5">Normalized intensity (arb. units)</text>
</svg>
</body></html>
